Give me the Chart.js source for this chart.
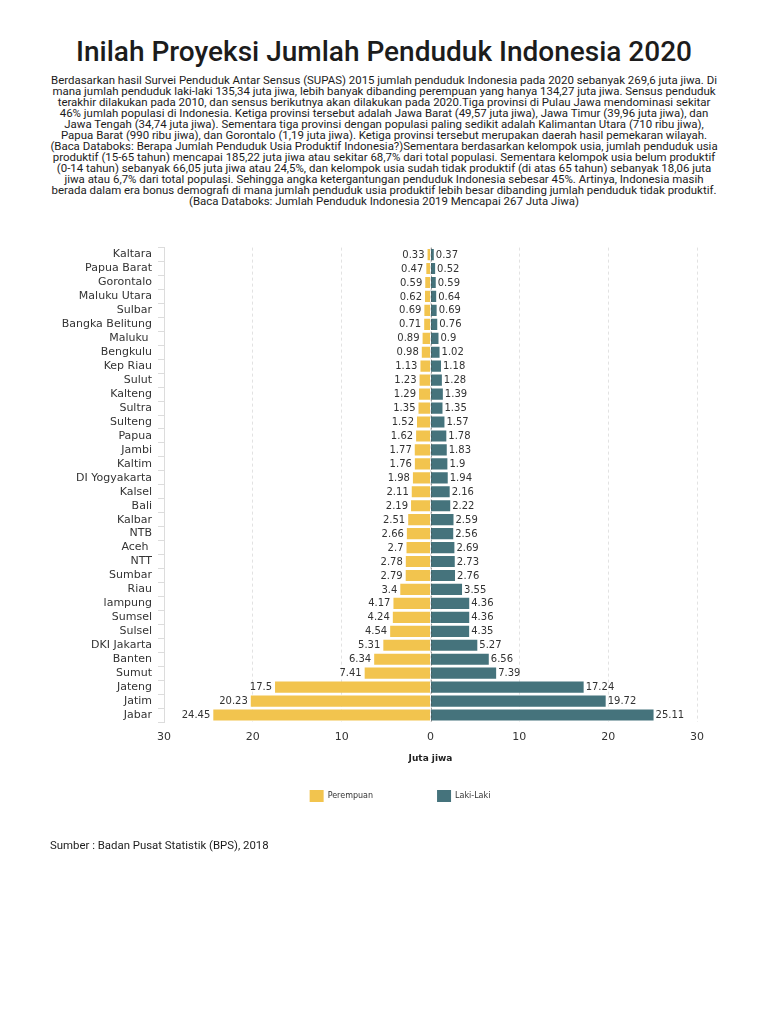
<!DOCTYPE html>
<html>
<head>
<meta charset="utf-8">
<script src="https://cdn.jsdelivr.net/npm/chart.js@4"></script>
<style>
html,body{margin:0;padding:0;background:#fff;}
body{width:768px;height:1024px;position:relative;overflow:hidden;font-family:Roboto, "Noto Sans", sans-serif;color:#1c1c1c;}
#title{position:absolute;left:0;width:768px;top:36px;text-align:center;font-size:28px;font-weight:500;margin:0;line-height:32px;}
#desc{position:absolute;left:0;width:768px;top:75px;text-align:center;font-size:11.45px;line-height:11px;white-space:nowrap;}
#wrap{position:absolute;left:0;top:235px;width:768px;height:619px;}
#src{position:absolute;left:50px;top:838px;font-size:11.4px;}
</style>
</head>
<body>
<h1 id="title">Inilah Proyeksi Jumlah Penduduk Indonesia 2020</h1>
<div id="desc">Berdasarkan hasil Survei Penduduk Antar Sensus (SUPAS) 2015 jumlah penduduk Indonesia pada 2020 sebanyak 269,6 juta jiwa. Di<br>mana jumlah penduduk laki-laki 135,34 juta jiwa, lebih banyak dibanding perempuan yang hanya 134,27 juta jiwa. Sensus penduduk<br>terakhir dilakukan pada 2010, dan sensus berikutnya akan dilakukan pada 2020.Tiga provinsi di Pulau Jawa mendominasi sekitar<br>46% jumlah populasi di Indonesia. Ketiga provinsi tersebut adalah Jawa Barat (49,57 juta jiwa), Jawa Timur (39,96 juta jiwa), dan<br>Jawa Tengah (34,74 juta jiwa). Sementara tiga provinsi dengan populasi paling sedikit adalah Kalimantan Utara (710 ribu jiwa),<br>Papua Barat (990 ribu jiwa), dan Gorontalo (1,19 juta jiwa). Ketiga provinsi tersebut merupakan daerah hasil pemekaran wilayah.<br>(Baca Databoks: Berapa Jumlah Penduduk Usia Produktif Indonesia?)Sementara berdasarkan kelompok usia, jumlah penduduk usia<br>produktif (15-65 tahun) mencapai 185,22 juta jiwa atau sekitar 68,7% dari total populasi. Sementara kelompok usia belum produktif<br>(0-14 tahun) sebanyak 66,05 juta jiwa atau 24,5%, dan kelompok usia sudah tidak produktif (di atas 65 tahun) sebanyak 18,06 juta<br>jiwa atau 6,7% dari total populasi. Sehingga angka ketergantungan penduduk Indonesia sebesar 45%. Artinya, Indonesia masih<br>berada dalam era bonus demografi di mana jumlah penduduk usia produktif lebih besar dibanding jumlah penduduk tidak produktif.<br>(Baca Databoks: Jumlah Penduduk Indonesia 2019 Mencapai 267 Juta Jiwa)</div>
<div id="wrap"><canvas id="c"></canvas></div>
<div id="src">Sumber : Badan Pusat Statistik (BPS), 2018</div>
<script>
const provinsi = ["Kaltara","Papua Barat","Gorontalo","Maluku Utara","Sulbar","Bangka Belitung","Maluku ","Bengkulu","Kep Riau","Sulut","Kalteng","Sultra","Sulteng","Papua","Jambi","Kaltim","DI Yogyakarta","Kalsel","Bali","Kalbar","NTB","Aceh ","NTT","Sumbar","Riau","lampung","Sumsel","Sulsel","DKI Jakarta","Banten","Sumut","Jateng","Jatim","Jabar"];
const perempuan = [0.33,0.47,0.59,0.62,0.69,0.71,0.89,0.98,1.13,1.23,1.29,1.35,1.52,1.62,1.77,1.76,1.98,2.11,2.19,2.51,2.66,2.7,2.78,2.79,3.4,4.17,4.24,4.54,5.31,6.34,7.41,17.5,20.23,24.45];
const lakiLaki = [0.37,0.52,0.59,0.64,0.69,0.76,0.9,1.02,1.18,1.28,1.39,1.35,1.57,1.78,1.83,1.9,1.94,2.16,2.22,2.59,2.56,2.69,2.73,2.76,3.55,4.36,4.36,4.35,5.27,6.56,7.39,17.24,19.72,25.11];
const seriesNames = ["Perempuan","Laki-Laki"];
const xMin = -30, xMax = 30, xStep = 10;
const axisTitle = "Juta jiwa";

const valueLabels = {
  id: 'valueLabels',
  afterDatasetsDraw(chart) {
    const ctx = chart.ctx;
    ctx.save();
    ctx.font = '10px "DejaVu Sans"';
    ctx.fillStyle = '#333';
    ctx.textBaseline = 'middle';
    const sources = [perempuan, lakiLaki];
    chart.data.datasets.forEach((ds, di) => {
      const meta = chart.getDatasetMeta(di);
      meta.data.forEach((bar, i) => {
        const txt = String(sources[di][i]);
        if (di === 0) { ctx.textAlign = 'right'; ctx.fillText(txt, bar.x - 3, bar.y + 0.5); }
        else { ctx.textAlign = 'left'; ctx.fillText(txt, bar.x + 2, bar.y + 0.5); }
      });
    });
    const xs = chart.scales.x, a = chart.chartArea;
    const x0 = Math.round(xs.getPixelForValue(0)) + 0.5;
    ctx.strokeStyle = 'rgba(70,70,70,0.55)';
    ctx.lineWidth = 1;
    ctx.setLineDash([2, 2]);
    ctx.beginPath(); ctx.moveTo(x0, a.top); ctx.lineTo(x0, a.bottom); ctx.stroke();
    ctx.restore();
  }
};

// move the (wide-spaced) legend closer to the axis title and centre it like the original
const legendPlacement = {
  id: 'legendPlacement',
  afterLayout(chart) {
    const lg = chart.legend;
    if (!lg) return;
    const dx = 22.5, dy = -42;
    lg.left += dx; lg.right += dx;
    lg.top += dy; lg.bottom += dy;
  }
};

new Chart(document.getElementById('c'), {
  type: 'bar',
  data: {
    labels: provinsi,
    datasets: [
      { label: seriesNames[0], data: perempuan.map(v => -v), backgroundColor: '#F2C44E', borderWidth: 0 },
      { label: seriesNames[1], data: lakiLaki, backgroundColor: '#45737C', borderWidth: 0 }
    ]
  },
  options: {
    indexAxis: 'y',
    responsive: true,
    maintainAspectRatio: false,
    animation: false,
    layout: { padding: { top: 12, left: 58, right: 71, bottom: 0 } },
    datasets: { bar: { barPercentage: 0.8, categoryPercentage: 1.0 } },
    scales: {
      x: {
        stacked: true,
        min: xMin, max: xMax,
        ticks: { stepSize: xStep, padding: 9, color: '#333', font: { family: 'DejaVu Sans', size: 11 },
          callback: v => Math.abs(v) },
        grid: { color: '#e2e2e2', drawTicks: false },
        border: { display: false, dash: [3, 3] },
        title: { display: true, text: axisTitle, color: '#222', font: { family: 'DejaVu Sans', size: 9, weight: 'bold' }, padding: { top: 0, bottom: 4 } }
      },
      y: {
        stacked: true,
        afterFit: s => { s.width = 106; },
        ticks: { padding: 6, color: '#333', font: { family: 'DejaVu Sans', size: 11 }, autoSkip: false },
        grid: { drawOnChartArea: false, drawTicks: true, tickLength: 6, color: '#dcdcdc' },
        border: { display: true, color: '#dcdcdc' }
      }
    },
    plugins: {
      legend: {
        position: 'bottom',
        labels: { boxWidth: 14, boxHeight: 12, padding: 64, color: '#333', font: { family: 'DejaVu Sans', size: 8 } }
      },
      tooltip: { enabled: false }
    }
  },
  plugins: [valueLabels, legendPlacement]
});
</script>
</body>
</html>
